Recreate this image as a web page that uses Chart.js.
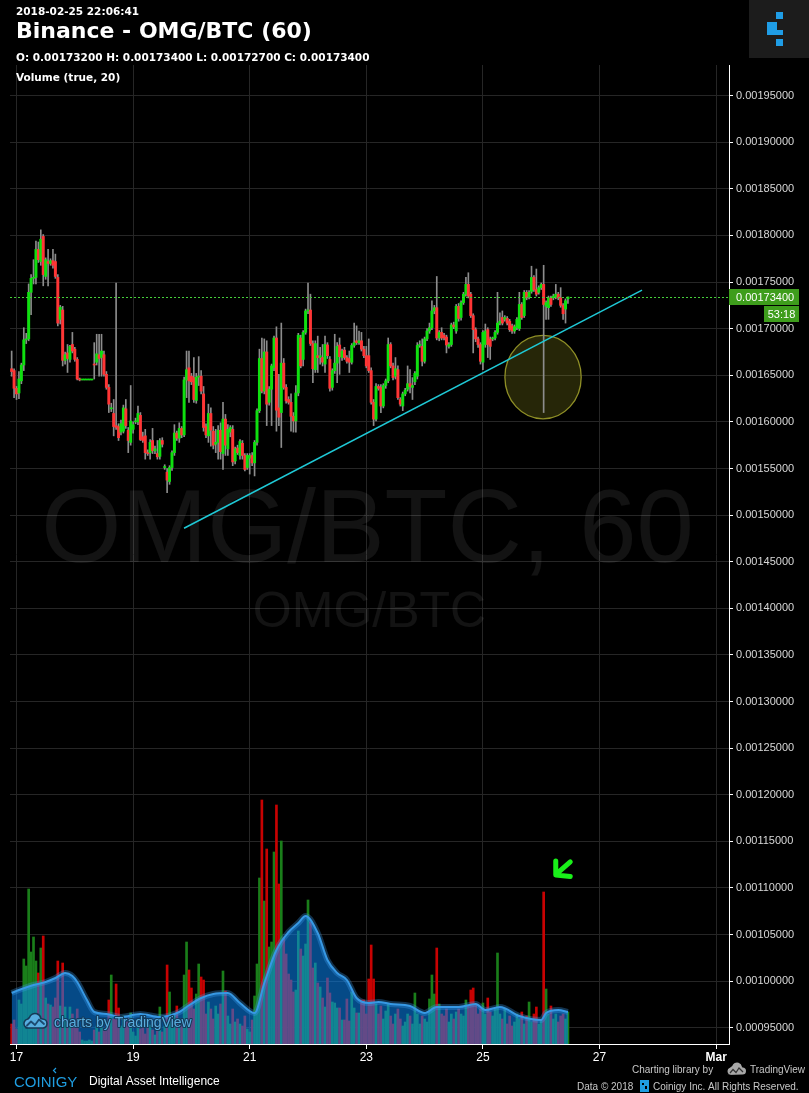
<!DOCTYPE html>
<html>
<head>
<meta charset="utf-8">
<title>Binance - OMG/BTC (60)</title>
<script src="https://cdn.jsdelivr.net/npm/chart.js@4.4.1/dist/chart.umd.min.js"></script>
<style>
  html, body { margin: 0; padding: 0; background: #000; overflow: hidden; }
  canvas { display: block; }
</style>
</head>
<body>
<canvas id="chart" width="809" height="1093"></canvas>
<script>
// ---- Hourly OMG/BTC candles on Binance. Prices are in units of 0.00001 BTC. ----
// Candle i opens at hour (firstHour + i), counted from Feb 17 00:00.
const firstHour = -2;

const opens = [
  165.7,165.5,163.6,163.1,164.4,166.1,168.8,168.9,173.9,175.4,
  175.5,178.5,177.2,179.9,175.6,177.2,177.0,177.3,177.2,175.5,
  171.0,172.0,166.6,167.4,166.7,168.3,167.8,166.7,164.6,164.5,
  164.5,164.5,164.5,164.5,166.2,166.4,167.2,166.9,167.2,165.1,
  163.7,161.4,160.9,159.6,159.5,158.9,159.0,161.4,159.1,157.8,
  159.2,160.0,160.0,160.7,158.4,158.5,156.7,156.7,158.0,156.9,
  156.6,156.3,158.0,155.1,154.6,153.6,155.1,156.7,158.8,158.25,
  159.3,158.6,164.5,165.8,164.9,164.75,162.3,164.8,164.9,163.0,
  159.5,158.5,160.9,159.0,157.6,157.8,159.1,156.6,160.3,157.1,
  158.9,159.2,155.8,157.2,156.4,157.7,156.4,155.1,156.1,156.4,
  155.6,157.8,161.2,166.8,163.3,167.5,162.1,163.5,165.8,169.0,
  161.5,161.0,166.3,163.7,162.4,162.1,160.6,160.1,163.1,169.0,
  166.7,169.6,171.9,172.0,168.4,165.6,167.1,166.9,166.9,166.2,
  168.25,166.7,163.7,165.5,166.3,168.25,166.9,167.7,166.9,166.8,
  166.4,168.2,168.7,168.5,168.7,167.8,167.1,167.1,165.5,162.1,
  160.3,163.8,163.7,161.7,163.9,164.4,168.3,166.0,164.9,165.6,
  162.4,161.7,163.0,163.5,164.1,163.7,164.3,164.9,168.2,168.1,
  166.5,168.9,169.75,170.1,171.9,172.25,169.0,169.6,169.3,169.1,
  168.1,168.3,170.4,169.75,172.4,171.2,172.8,173.7,174.75,173.7,
  171.4,169.9,168.9,168.3,166.4,168.3,169.9,168.9,168.9,169.0,
  169.6,170.6,171.2,171.0,171.1,170.8,170.3,169.75,170.1,170.0,
  172.6,171.4,173.9,173.4,174.0,175.5,174.2,173.9,174.4,174.75,
  172.4,172.25,173.3,173.3,173.4,173.7,173.3,172.5,172.1,173.2
];
const highs = [
  167.6,165.7,163.8,165.4,166.3,170.1,169.5,174.8,175.8,177.4,
  179.4,179.3,180.6,180.1,177.6,178.5,177.5,178.5,178.0,175.8,
  172.5,172.4,167.5,168.3,168.2,169.6,168.0,166.9,164.7,164.5,
  164.5,164.5,164.5,164.5,168.5,169.4,169.4,169.4,167.6,165.4,
  164.0,162.0,162.4,174.9,159.8,160.2,161.8,162.4,159.4,163.9,
  160.0,160.4,161.7,161.0,158.9,159.2,157.0,158.1,159.3,157.4,
  158.0,158.2,158.3,155.4,155.0,155.3,156.9,159.7,159.0,159.9,
  159.5,164.8,167.6,167.6,165.2,166.9,165.2,167.0,165.5,163.8,
  159.8,161.9,161.5,159.5,159.2,159.6,159.9,162.1,160.8,159.7,
  159.6,159.6,157.3,157.5,158.1,158.0,156.6,156.6,156.6,156.7,
  158.0,161.4,167.8,169.0,168.9,168.7,163.8,166.2,169.2,170.2,
  165.1,170.6,166.8,164.0,162.7,163.0,161.0,163.9,169.5,169.3,
  169.8,172.1,174.9,173.7,168.7,168.7,169.2,168.0,168.3,169.2,
  168.5,167.0,165.7,169.4,168.5,169.0,167.8,168.0,167.1,167.6,
  168.4,170.6,170.3,169.75,169.6,168.1,168.1,168.9,165.8,162.4,
  164.1,164.0,164.0,164.1,164.6,169.0,168.5,166.3,166.9,166.0,
  162.6,163.2,163.6,166.0,165.6,164.75,165.4,168.5,168.7,168.9,
  169.1,170.0,170.6,173.0,172.5,175.6,169.8,170.1,169.5,169.3,
  168.5,170.6,170.7,172.6,172.7,173.0,173.9,175.5,176.0,173.9,
  171.6,170.1,169.1,168.5,169.8,170.5,170.1,169.1,169.1,169.8,
  173.9,171.7,171.9,171.4,171.3,171.0,170.5,170.4,171.2,173.9,
  172.8,174.1,174.1,174.1,176.7,175.7,176.4,174.6,174.9,176.8,
  173.0,173.5,173.5,173.7,174.75,173.9,174.4,172.7,173.2,173.4
];
const lows = [
  164.9,162.6,162.4,162.5,164.1,165.5,168.4,168.7,171.5,174.8,
  174.8,177.1,176.8,174.6,175.3,174.6,176.8,176.5,175.4,170.3,
  170.5,166.0,166.2,165.3,166.4,167.4,166.5,164.5,164.4,164.5,
  164.5,164.5,164.5,164.5,164.6,166.1,164.9,164.9,164.9,163.5,
  161.0,161.1,158.5,159.2,158.0,158.6,158.8,159.3,156.7,157.5,
  158.8,159.8,159.7,158.0,157.8,156.0,156.4,156.0,156.6,156.6,
  156.0,156.0,157.3,154.9,152.4,153.3,154.8,156.4,158.0,157.8,
  158.3,158.4,162.6,162.1,164.0,162.1,162.0,163.9,163.0,159.0,
  158.3,157.8,157.4,157.1,156.7,156.0,156.0,154.9,156.4,156.4,
  158.4,155.3,155.5,156.5,156.0,156.0,154.75,154.9,154.4,155.3,
  154.2,157.5,161.0,163.1,163.0,159.6,161.8,159.6,165.5,159.0,
  159.6,157.25,163.5,162.0,161.9,159.0,158.9,158.9,162.8,165.8,
  166.0,169.4,171.6,168.2,164.2,165.3,165.3,166.2,166.0,165.3,
  166.8,163.3,163.4,165.2,164.2,165.1,166.6,166.7,166.3,165.3,
  166.2,168.0,168.3,168.3,167.6,166.9,165.8,165.3,161.9,159.6,
  160.1,163.4,161.0,161.5,163.6,164.2,165.8,164.5,164.6,162.4,
  161.7,161.2,162.8,163.3,163.1,162.4,164.0,164.6,168.0,166.0,
  166.3,168.7,169.5,169.9,171.6,168.8,168.7,168.8,168.8,167.4,
  167.9,168.1,170.0,169.5,170.8,170.9,172.6,173.5,173.3,171.2,
  167.4,168.6,168.0,166.2,165.6,168.0,166.9,166.7,168.7,168.8,
  169.4,170.4,170.4,170.8,170.4,169.7,169.5,169.5,169.9,169.8,
  171.0,171.2,173.1,173.2,173.8,174.0,173.5,173.7,174.2,161.0,
  171.0,171.0,172.4,173.1,173.2,173.1,172.3,171.0,170.6,172.7
];
const closes = [
  165.4,163.6,163.0,164.6,166.1,168.8,168.9,173.9,175.4,175.5,
  178.5,177.4,179.6,175.8,177.4,177.0,177.3,176.8,175.6,170.6,
  172.3,166.6,167.2,166.8,168.1,167.6,166.7,164.6,164.5,164.5,
  164.5,164.5,164.5,164.5,166.1,167.3,166.8,167.6,165.1,163.7,
  161.9,161.5,159.5,159.4,158.3,159.8,161.5,159.6,158.0,160.1,
  159.7,160.1,160.9,158.1,158.0,156.7,156.6,157.8,156.9,157.1,
  156.25,158.0,157.6,155.2,153.75,155.1,156.7,158.8,158.25,159.3,
  158.6,164.5,165.6,164.4,164.3,162.4,164.8,164.9,163.3,159.4,
  158.6,160.9,159.1,157.5,157.8,159.1,156.8,160.3,157.5,159.2,
  159.4,155.7,157.1,156.7,157.9,156.4,154.9,156.4,156.4,155.6,
  157.8,161.2,166.8,163.3,167.5,161.9,163.5,166.0,169.0,161.25,
  160.5,166.3,163.7,162.25,162.1,160.6,160.1,163.1,169.3,166.0,
  169.6,171.9,172.0,168.4,165.7,168.4,166.9,167.1,166.4,168.3,
  167.1,163.6,165.5,166.3,168.1,167.0,167.6,166.9,166.5,166.4,
  168.2,168.5,168.5,168.7,167.8,167.1,166.0,165.5,162.1,160.3,
  163.8,163.6,161.7,163.9,164.4,168.3,166.0,164.75,165.7,162.6,
  161.9,163.0,163.4,164.1,163.8,163.9,165.2,168.2,168.3,166.5,
  168.9,169.75,170.1,171.9,172.25,169.0,169.6,169.0,169.0,168.25,
  168.3,170.4,170.2,172.4,171.1,172.8,173.7,174.75,173.5,171.4,
  169.9,168.9,168.3,166.5,169.6,169.75,168.3,168.1,169.0,169.6,
  170.6,170.8,170.6,171.2,170.6,169.9,169.75,170.2,171.0,172.6,
  171.2,173.9,173.3,173.9,175.5,174.2,173.7,174.4,174.75,172.6,
  172.8,173.3,172.6,173.5,173.7,173.3,172.5,171.6,173.0,173.4
];

// Hourly traded volume (relative units) for the same candles.
const volumes = [
  20,24,15,44,40,85,78,155,92,107,
  83,71,96,108,46,40,39,37,46,83,
  38,81,37,21,37,30,22,35,12,4,
  3,3,4,3,14,18,12,20,15,22,
  44,69,25,60,36,18,28,22,26,31,
  12,8,20,15,22,10,16,19,14,9,
  18,37,12,18,79,52,24,30,38,22,
  20,69,102,74,56,35,50,80,67,64,
  30,42,35,25,38,30,40,73,53,28,
  20,35,22,25,20,18,28,15,12,24,
  48,80,166,244,143,195,97,102,192,239,
  160,203,106,90,70,64,52,54,113,95,
  88,100,144,122,76,81,61,57,46,37,
  66,51,42,41,36,36,24,24,45,23,
  52,36,31,31,44,44,30,65,99,65,
  40,30,38,25,33,40,28,20,30,35,
  25,18,22,30,28,20,51,30,20,28,
  25,22,45,69,50,96,40,30,28,35,
  22,30,25,32,35,30,28,44,38,54,
  56,40,30,35,41,30,46,32,28,36,
  91,30,25,35,20,28,18,22,30,25,
  32,20,28,42,22,30,37,20,24,152,
  55,30,38,25,30,22,28,30,25,32
];

// 20-period volume average, sampled at these candle numbers.
const volumeMaAt = [0,3,9,14,18,22,25,27,31,34,39,45,53,61,69,72,78,83,89,94,
  100,104,109,114,118,121,126,130,134,138,142,147,151,156,164,170,175,184,191,195,
  201,209,218,220,225,229];
const volumeMa = [51,54,59,62,66,71,68,62,44,32,30,27,30,27,32,37,46,50,51,41,
  31,61,94,112,121,128,111,84,71,64,46,41,42,40,38,31,37,37,40,34,
  37,28,24,31,34,32];

// Axis ticks.
const dayTickHours = [0, 48, 96, 144, 192, 240, 288];
const dayTickLabels = ['17', '19', '21', '23', '25', '27', 'Mar'];
const priceTicks = [95,100,105,110,115,120,125,130,135,140,145,150,155,160,165,170,175,180,185,190,195];

// Hand-drawn study: ascending support line (hour, price) and a highlighted wick.
const trendHours = [68.96, 257.5];
const trendPrices = [148.59, 174.14];
const markCenter = { hour: 216.75, price: 164.8 };
const markRadius = { hours: 15.7, price: 4.47 };
const arrowAt = { hour: 222.6, price: 111.6 };

const exchange = 'Binance';
const symbol = 'OMG/BTC';
const interval = '60';
const timestamp = '2018-02-25 22:06:41';
const countdown = '53:18';

// ---- rendering ----
const UP = '#0fe00f';
const DOWN = '#ff3535';
const VOL_UP = '#1a7e1a';
const VOL_DOWN = '#c80202';
const FONT_UI = '"DejaVu Sans", Verdana, sans-serif';
const FONT_AX = '"Liberation Sans", Arial, sans-serif';
const FONT_NARROW = '"Liberation Sans Narrow", "Liberation Sans", Arial, sans-serif';

const hourOf = i => firstHour + i;
const isUp = i => closes[i] >= opens[i];
const fmtPrice = v => (v * 1e-5).toFixed(8);

const wickData = opens.map((_, i) => ({ x: hourOf(i), y: [lows[i], highs[i]] }));
const bodyData = opens.map((o, i) => ({ x: hourOf(i), y: [o, closes[i]] }));
const volData = volumes.map((v, i) => ({ x: hourOf(i), y: v }));
const maData = volumeMaAt.map((k, j) => ({ x: hourOf(k), y: volumeMa[j] }));
const trendData = trendHours.map((h, j) => ({ x: h, y: trendPrices[j] }));

const decor = {
  id: 'decor',
  beforeDraw(chart) {
    const c = chart.ctx;
    c.save();
    c.fillStyle = '#000';
    c.fillRect(0, 0, chart.width, chart.height);
    c.restore();
  },
  beforeDatasetsDraw(chart) {
    const c = chart.ctx, a = chart.chartArea;
    const xs = chart.scales.x, ys = chart.scales.y;
    const cx = (a.left + a.right) / 2;
    c.save();
    // symbol watermark
    c.fillStyle = 'rgba(255,255,255,0.075)';
    c.textAlign = 'center';
    c.textBaseline = 'alphabetic';
    c.font = '103px ' + FONT_AX;
    c.fillText(symbol + ', ' + interval, cx - 2, 562);
    c.font = '50px ' + FONT_AX;
    c.fillText(symbol, cx, 627);
    // highlighted wick ellipse
    const ex = xs.getPixelForValue(markCenter.hour);
    const ey = ys.getPixelForValue(markCenter.price);
    const rx = xs.getPixelForValue(markCenter.hour + markRadius.hours) - ex;
    const ry = ey - ys.getPixelForValue(markCenter.price + markRadius.price);
    c.beginPath();
    c.ellipse(ex, ey, rx, ry, 0, 0, Math.PI * 2);
    c.fillStyle = 'rgba(190,190,40,0.2)';
    c.fill();
    c.strokeStyle = '#8f8f26';
    c.lineWidth = 1.3;
    c.stroke();
    c.restore();
  },
  afterDatasetsDraw(chart) {
    const c = chart.ctx, a = chart.chartArea;
    const xs = chart.scales.x, ys = chart.scales.y;
    const last = closes[closes.length - 1];
    const py = Math.round(ys.getPixelForValue(last)) + 0.5;
    c.save();
    // last price line
    c.strokeStyle = '#46d03a';
    c.lineWidth = 1;
    c.setLineDash([2, 2]);
    c.beginPath();
    c.moveTo(a.left, py);
    c.lineTo(a.right, py);
    c.stroke();
    c.setLineDash([]);

    // green pointer arrow
    const ax = xs.getPixelForValue(arrowAt.hour);
    const ay = ys.getPixelForValue(arrowAt.price);
    c.strokeStyle = '#19f019';
    c.lineWidth = 5;
    c.lineCap = 'round';
    c.lineJoin = 'round';
    c.beginPath();
    c.moveTo(ax - 1.5, ay - 12);
    c.lineTo(ax - 1.5, ay + 2);
    c.lineTo(ax + 13, ay + 3.5);
    c.moveTo(ax + 13, ay - 11);
    c.lineTo(ax + 1, ay - 0.5);
    c.stroke();

    // TradingView watermark
    const tx = 23, ty = 1013;
    c.lineWidth = 1.6;
    c.strokeStyle = '#153955';
    c.fillStyle = '#57aee0';
    c.beginPath();
    c.moveTo(tx + 3, ty + 15);
    c.arc(tx + 5.5, ty + 10.5, 4.5, Math.PI * 0.6, Math.PI * 1.45);
    c.arc(tx + 12, ty + 6.5, 6, Math.PI * 1.1, Math.PI * 1.95);
    c.arc(tx + 19.5, ty + 10.5, 4.5, Math.PI * 1.5, Math.PI * 0.45);
    c.closePath();
    c.fill();
    c.stroke();
    c.strokeStyle = '#1b4a70';
    c.lineWidth = 1.8;
    c.beginPath();
    c.moveTo(tx + 4, ty + 12.5);
    c.lineTo(tx + 8, ty + 8.5);
    c.lineTo(tx + 12, ty + 12);
    c.lineTo(tx + 16, ty + 6.5);
    c.lineTo(tx + 21, ty + 11);
    c.stroke();
    c.font = '14px ' + FONT_AX;
    c.textBaseline = 'alphabetic';
    c.textAlign = 'left';
    c.lineWidth = 2.2;
    c.strokeStyle = '#143a5a';
    c.strokeText('charts by TradingView', 54, 1027);
    c.fillStyle = '#58acde';
    c.fillText('charts by TradingView', 54, 1027);
    c.restore();
  },
  afterDraw(chart) {
    const c = chart.ctx, a = chart.chartArea, ys = chart.scales.y;
    const n = closes.length - 1;
    c.save();
    c.textAlign = 'left';
    c.textBaseline = 'alphabetic';
    // header
    c.fillStyle = '#fff';
    c.font = 'bold 10.5px ' + FONT_UI;
    c.fillText(timestamp, 16, 15);
    c.font = 'bold 22px ' + FONT_UI;
    c.fillText(exchange + ' - ' + symbol + ' (' + interval + ')', 16, 38);
    c.font = 'bold 10.5px ' + FONT_UI;
    c.fillText('O: ' + fmtPrice(opens[n]) + ' H: ' + fmtPrice(highs[n]) +
      ' L: ' + fmtPrice(lows[n]) + ' C: ' + fmtPrice(closes[n]), 16, 60.5);
    c.fillText('Volume (true, 20)', 16, 81);

    // last price tag on the axis
    const ty = Math.round(ys.getPixelForValue(closes[n]));
    c.fillStyle = '#3e9d1c';
    c.fillRect(a.right, ty - 8, 70, 16);
    c.fillRect(a.right + 35, ty + 9, 35, 16);
    c.fillStyle = '#fff';
    c.font = '11px ' + FONT_AX;
    c.textBaseline = 'middle';
    c.fillText(fmtPrice(closes[n]), a.right + 7, ty + 0.5);
    c.textAlign = 'center';
    c.fillText(countdown, a.right + 52.5, ty + 17.5);

    // brand box, top right
    c.fillStyle = '#1c1c1c';
    c.fillRect(749, 0, 60, 58);
    c.fillStyle = '#1f9de6';
    c.fillRect(776, 12, 7, 7);
    c.fillRect(767, 22, 10, 13);
    c.fillRect(777, 30, 6, 5);
    c.fillRect(776, 39, 7, 7);

    // footer, left
    c.textAlign = 'left';
    c.textBaseline = 'alphabetic';
    c.fillStyle = '#1f9de0';
    c.font = '15px ' + FONT_AX;
    c.fillText('COINIGY', 14, 1087);
    c.strokeStyle = '#1f9de0';
    c.lineWidth = 1.2;
    c.beginPath();
    c.moveTo(56, 1068);
    c.lineTo(53.5, 1070.5);
    c.lineTo(56, 1073);
    c.stroke();
    c.fillStyle = '#fff';
    c.font = '12px ' + FONT_AX;
    c.fillText('Digital Asset Intelligence', 89, 1085);

    // footer, right
    c.fillStyle = '#c8c8c8';
    c.font = '10px ' + FONT_AX;
    c.fillText('Charting library by', 632, 1073);
    c.fillText('TradingView', 750, 1073);
    c.fillText('Data \u00a9 2018', 577, 1090);
    c.fillText('Coinigy Inc. All Rights Reserved.', 653, 1090);
    // small cloud mark
    c.fillStyle = '#a8a8a8';
    c.beginPath();
    c.moveTo(727, 1075);
    c.arc(731, 1071, 3.5, Math.PI * 0.5, Math.PI * 1.4);
    c.arc(737, 1067.5, 5, Math.PI * 1.1, Math.PI * 1.95);
    c.arc(742.5, 1071, 3.5, Math.PI * 1.5, Math.PI * 0.5);
    c.closePath();
    c.fill();
    c.strokeStyle = '#333';
    c.lineWidth = 1.2;
    c.beginPath();
    c.moveTo(730, 1073);
    c.lineTo(733, 1069.5);
    c.lineTo(736, 1072.5);
    c.lineTo(739, 1068);
    c.lineTo(743, 1072);
    c.stroke();
    // small square mark
    c.fillStyle = '#1f9de0';
    c.fillRect(640, 1080, 9, 12);
    c.fillStyle = '#000';
    c.fillRect(642, 1083, 2, 2);
    c.fillRect(645, 1086, 2, 3);
    c.restore();
  }
};

new Chart(document.getElementById('chart').getContext('2d'), {
  type: 'bar',
  data: {
    datasets: [
      {
        type: 'line', label: 'support', data: trendData, yAxisID: 'y',
        borderColor: '#1fc9d6', borderWidth: 1.5, pointRadius: 0, fill: false, order: 0
      },
      {
        label: 'body', data: bodyData, yAxisID: 'y',
        backgroundColor: opens.map((_, i) => isUp(i) ? UP : DOWN),
        barThickness: 2.3, minBarLength: 1, grouped: false, order: 1
      },
      {
        label: 'wick', data: wickData, yAxisID: 'y',
        backgroundColor: '#8c8c8c', barThickness: 1, grouped: false, order: 2
      },
      {
        type: 'line', label: 'volume ma glow', data: maData, yAxisID: 'yv',
        borderColor: 'rgba(60,155,235,0.32)', borderWidth: 6, pointRadius: 0,
        cubicInterpolationMode: 'monotone', fill: false, order: 2.5
      },
      {
        type: 'line', label: 'volume ma', data: maData, yAxisID: 'yv',
        borderColor: '#3597e0', borderWidth: 2, pointRadius: 0,
        cubicInterpolationMode: 'monotone', fill: 'origin',
        backgroundColor: 'rgba(10,140,255,0.53)', order: 3
      },
      {
        label: 'volume', data: volData, yAxisID: 'yv',
        backgroundColor: volumes.map((_, i) => isUp(i) ? VOL_UP : VOL_DOWN),
        barThickness: 2, grouped: false, order: 4
      }
    ]
  },
  options: {
    responsive: false,
    animation: false,
    events: [],
    devicePixelRatio: 1,
    layout: { padding: { left: 10, top: 65, right: 0, bottom: 0 } },
    plugins: { legend: { display: false }, tooltip: { enabled: false } },
    scales: {
      x: {
        type: 'linear', min: -2.68, max: 293.3, offset: false,
        afterBuildTicks: s => { s.ticks = dayTickHours.map(v => ({ value: v })); },
        afterFit: s => { s.height = 49; },
        ticks: {
          color: '#fff', padding: 1, maxRotation: 0, autoSkip: false,
          font: ctx => ({ family: FONT_NARROW, size: 12,
            weight: (ctx.tick && ctx.tick.value === 288) ? 'bold' : 'normal' }),
          callback: v => dayTickLabels[dayTickHours.indexOf(v)]
        },
        grid: { color: '#262626', tickColor: '#fff', tickLength: 5, offset: false },
        border: { color: '#fff', width: 1 }
      },
      y: {
        position: 'right', min: 93.25, max: 198.29,
        afterBuildTicks: s => { s.ticks = priceTicks.map(v => ({ value: v })); },
        afterFit: s => { s.width = 80; },
        ticks: {
          color: '#d8d8d8', padding: 3,
          font: { family: FONT_AX, size: 11 },
          callback: v => fmtPrice(v)
        },
        grid: { color: '#262626', tickColor: '#fff', tickLength: 4 },
        border: { color: '#fff', width: 1 }
      },
      yv: { display: false, min: 0, max: 979 }
    }
  },
  plugins: [decor]
});
</script>
</body>
</html>
